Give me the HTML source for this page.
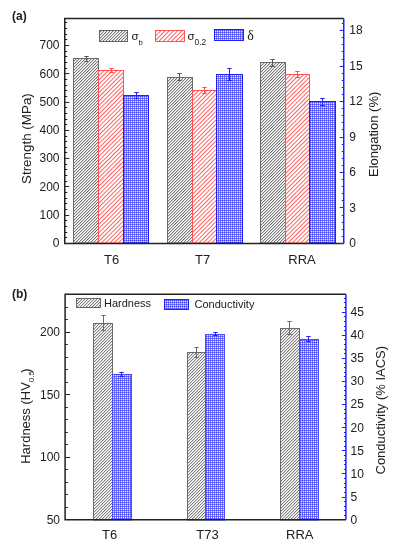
<!DOCTYPE html><html><head><meta charset="utf-8"><style>
html,body{margin:0;padding:0;background:#fff;}
svg{display:block;will-change:transform;}
text{font-family:"Liberation Sans",sans-serif;fill:#202020;}
</style></head><body>
<svg width="399" height="550" viewBox="0 0 399 550">
<defs>
<pattern id="pg" width="3" height="3" patternUnits="userSpaceOnUse"><rect width="3" height="3" fill="#fff"/><rect x="0" y="2" width="1" height="1" fill="#787878"/><rect x="1" y="1" width="1" height="1" fill="#787878"/><rect x="2" y="0" width="1" height="1" fill="#787878"/><rect x="1" y="2" width="1" height="1" fill="#d4d4d4"/><rect x="2" y="1" width="1" height="1" fill="#d4d4d4"/><rect x="0" y="0" width="1" height="1" fill="#d4d4d4"/></pattern>
<pattern id="pr" width="3" height="3" patternUnits="userSpaceOnUse" patternTransform="rotate(45)"><rect width="3" height="3" fill="#fff"/><rect x="0" y="0" width="0.95" height="3" fill="#ff5a5a"/></pattern>
<pattern id="pb" width="2" height="2" patternUnits="userSpaceOnUse"><rect width="2" height="2" fill="#4444ff"/><rect x="1" y="0" width="1" height="1" fill="#8484ff"/><rect x="0" y="1" width="1" height="1" fill="#8484ff"/><rect x="1" y="1" width="1" height="1" fill="#ececff"/></pattern>
<pattern id="pb2" width="2" height="2" patternUnits="userSpaceOnUse"><rect width="2" height="2" fill="#4a4aff"/><rect x="1" y="0" width="1" height="1" fill="#8080ff"/><rect x="0" y="1" width="1" height="1" fill="#8080ff"/><rect x="1" y="1" width="1" height="1" fill="#e0e0ff"/></pattern>
<pattern id="pg2" width="3" height="3" patternUnits="userSpaceOnUse"><rect width="3" height="3" fill="#fff"/><rect x="0" y="2" width="1" height="1" fill="#808080"/><rect x="1" y="1" width="1" height="1" fill="#808080"/><rect x="2" y="0" width="1" height="1" fill="#808080"/><rect x="1" y="2" width="1" height="1" fill="#d8d8d8"/><rect x="2" y="1" width="1" height="1" fill="#d8d8d8"/><rect x="0" y="0" width="1" height="1" fill="#d8d8d8"/></pattern>
<filter id="soft" x="0" y="0" width="399" height="550" filterUnits="userSpaceOnUse" color-interpolation-filters="sRGB"><feConvolveMatrix order="3" kernelMatrix="1 4 1 4 16 4 1 4 1" divisor="36" edgeMode="duplicate"/></filter>
</defs>
<g>
<rect width="399" height="550" fill="#fff"/>

<rect x="73.50" y="58.50" width="25.00" height="184.50" fill="url(#pg)" stroke="#6a6a6a" stroke-width="1"/>
<path d="M84.30 56.50H88.70M86.50 56.50V61.50M84.30 61.50H88.70" stroke="#555" stroke-width="1" fill="none"/>
<rect x="98.50" y="70.50" width="25.00" height="172.50" fill="url(#pr)" stroke="#ff5252" stroke-width="1"/>
<path d="M109.30 68.50H113.70M111.50 68.50V72.50M109.30 72.50H113.70" stroke="#ff4848" stroke-width="1" fill="none"/>
<rect x="123.50" y="95.50" width="25.00" height="147.50" fill="url(#pb2)" stroke="#2020ff" stroke-width="1"/>
<path d="M134.30 92.50H138.70M136.50 92.50V98.50M134.30 98.50H138.70" stroke="#2020ff" stroke-width="1" fill="none"/>
<rect x="167.50" y="77.50" width="25.00" height="165.50" fill="url(#pg)" stroke="#6a6a6a" stroke-width="1"/>
<path d="M177.30 73.50H181.70M179.50 73.50V80.50M177.30 80.50H181.70" stroke="#555" stroke-width="1" fill="none"/>
<rect x="192.50" y="90.50" width="24.00" height="152.50" fill="url(#pr)" stroke="#ff5252" stroke-width="1"/>
<path d="M202.30 87.50H206.70M204.50 87.50V93.50M202.30 93.50H206.70" stroke="#ff4848" stroke-width="1" fill="none"/>
<rect x="216.50" y="74.50" width="26.00" height="168.50" fill="url(#pb2)" stroke="#2020ff" stroke-width="1"/>
<path d="M227.30 68.50H231.70M229.50 68.50V80.50M227.30 80.50H231.70" stroke="#2020ff" stroke-width="1" fill="none"/>
<rect x="260.50" y="62.50" width="25.00" height="180.50" fill="url(#pg)" stroke="#6a6a6a" stroke-width="1"/>
<path d="M270.30 59.50H274.70M272.50 59.50V66.50M270.30 66.50H274.70" stroke="#555" stroke-width="1" fill="none"/>
<rect x="285.50" y="74.50" width="24.00" height="168.50" fill="url(#pr)" stroke="#ff5252" stroke-width="1"/>
<path d="M295.30 71.50H299.70M297.50 71.50V77.50M295.30 77.50H299.70" stroke="#ff4848" stroke-width="1" fill="none"/>
<rect x="309.50" y="101.50" width="26.00" height="141.50" fill="url(#pb2)" stroke="#2020ff" stroke-width="1"/>
<path d="M320.30 98.50H324.70M322.50 98.50V105.50M320.30 105.50H324.70" stroke="#2020ff" stroke-width="1" fill="none"/>
<path d="M343.75 18.40H64.75V243.40H343.75" stroke="#222" stroke-width="1.5" fill="none"/>
<path d="M343.75 18.40V243.40" stroke="#2020ff" stroke-width="1.5" fill="none"/>
<path d="M64.75 243.50H69.25M64.75 237.50H67.25M64.75 232.50H67.25M64.75 226.50H67.25M64.75 220.50H67.25M64.75 215.50H69.25M64.75 209.50H67.25M64.75 203.50H67.25M64.75 198.50H67.25M64.75 192.50H67.25M64.75 186.50H69.25M64.75 181.50H67.25M64.75 175.50H67.25M64.75 169.50H67.25M64.75 164.50H67.25M64.75 158.50H69.25M64.75 152.50H67.25M64.75 147.50H67.25M64.75 141.50H67.25M64.75 136.50H67.25M64.75 130.50H69.25M64.75 124.50H67.25M64.75 119.50H67.25M64.75 113.50H67.25M64.75 107.50H67.25M64.75 102.50H69.25M64.75 96.50H67.25M64.75 90.50H67.25M64.75 85.50H67.25M64.75 79.50H67.25M64.75 73.50H69.25M64.75 68.50H67.25M64.75 62.50H67.25M64.75 56.50H67.25M64.75 51.50H67.25M64.75 45.50H69.25M64.75 39.50H67.25M64.75 34.50H67.25M64.75 28.50H67.25M64.75 22.50H67.25" stroke="#222" stroke-width="1.1" fill="none"/>
<text x="59.5" y="247.20" font-size="12" text-anchor="end">0</text>
<text x="59.5" y="218.94" font-size="12" text-anchor="end">100</text>
<text x="59.5" y="190.68" font-size="12" text-anchor="end">200</text>
<text x="59.5" y="162.42" font-size="12" text-anchor="end">300</text>
<text x="59.5" y="134.16" font-size="12" text-anchor="end">400</text>
<text x="59.5" y="105.90" font-size="12" text-anchor="end">500</text>
<text x="59.5" y="77.64" font-size="12" text-anchor="end">600</text>
<text x="59.5" y="49.38" font-size="12" text-anchor="end">700</text>
<path d="M343.75 243.50H339.75M343.75 236.50H341.75M343.75 229.50H341.75M343.75 222.50H341.75M343.75 215.50H341.75M343.75 207.50H339.75M343.75 200.50H341.75M343.75 193.50H341.75M343.75 186.50H341.75M343.75 179.50H341.75M343.75 172.50H339.75M343.75 165.50H341.75M343.75 158.50H341.75M343.75 151.50H341.75M343.75 144.50H341.75M343.75 137.50H339.75M343.75 129.50H341.75M343.75 122.50H341.75M343.75 115.50H341.75M343.75 108.50H341.75M343.75 101.50H339.75M343.75 94.50H341.75M343.75 87.50H341.75M343.75 80.50H341.75M343.75 73.50H341.75M343.75 66.50H339.75M343.75 59.50H341.75M343.75 51.50H341.75M343.75 44.50H341.75M343.75 37.50H341.75M343.75 30.50H339.75M343.75 23.50H341.75" stroke="#2020ff" stroke-width="1.1" fill="none"/>
<text x="349.3" y="247.20" font-size="12">0</text>
<text x="349.3" y="211.74" font-size="12">3</text>
<text x="349.3" y="176.28" font-size="12">6</text>
<text x="349.3" y="140.82" font-size="12">9</text>
<text x="349.3" y="105.36" font-size="12">12</text>
<text x="349.3" y="69.90" font-size="12">15</text>
<text x="349.3" y="34.44" font-size="12">18</text>
<text x="111.65" y="263.8" font-size="13" text-anchor="middle">T6</text>
<text x="202.60" y="263.8" font-size="13" text-anchor="middle">T7</text>
<text x="302.00" y="263.8" font-size="13" text-anchor="middle">RRA</text>
<text transform="translate(30.8,184.0) rotate(-90)" font-size="13.4">Strength (MPa)</text>
<text transform="translate(378.3,177.0) rotate(-90)" font-size="13">Elongation (%)</text>
<text x="12" y="20.3" font-size="12" font-weight="bold">(a)</text>
<rect x="99.5" y="30.5" width="28" height="11" fill="url(#pg)" stroke="#666" stroke-width="1"/>
<text x="131.5" y="40.2" font-size="11.5">σ</text><text x="138.6" y="44.6" font-size="7.6">b</text>
<rect x="155.5" y="30.5" width="29" height="11" fill="url(#pr)" stroke="#ff5252" stroke-width="1"/>
<text x="187.6" y="40.3" font-size="11.5">σ</text><text x="194.6" y="44.8" font-size="8.3">0.2</text>
<rect x="214.5" y="29.5" width="29" height="11" fill="url(#pb2)" stroke="#2020ff" stroke-width="1"/>
<text x="247.2" y="40.2" font-size="14" style="font-family:'Liberation Serif',serif">δ</text>
<rect x="93.50" y="323.50" width="19.00" height="196.50" fill="url(#pg2)" stroke="#6a6a6a" stroke-width="1"/>
<path d="M101.30 315.50H105.70M103.50 315.50V330.50M101.30 330.50H105.70" stroke="#6a6a6a" stroke-width="1" fill="none"/>
<rect x="112.50" y="374.50" width="19.00" height="145.50" fill="url(#pb2)" stroke="#4a4aff" stroke-width="1"/>
<path d="M119.30 372.50H123.70M121.50 372.50V376.50M119.30 376.50H123.70" stroke="#2020ff" stroke-width="1" fill="none"/>
<rect x="187.50" y="352.50" width="18.00" height="167.50" fill="url(#pg2)" stroke="#6a6a6a" stroke-width="1"/>
<path d="M194.30 347.50H198.70M196.50 347.50V357.50M194.30 357.50H198.70" stroke="#6a6a6a" stroke-width="1" fill="none"/>
<rect x="205.50" y="334.50" width="19.00" height="185.50" fill="url(#pb2)" stroke="#4a4aff" stroke-width="1"/>
<path d="M213.30 332.50H217.70M215.50 332.50V335.50M213.30 335.50H217.70" stroke="#2020ff" stroke-width="1" fill="none"/>
<rect x="280.50" y="328.50" width="19.00" height="191.50" fill="url(#pg2)" stroke="#6a6a6a" stroke-width="1"/>
<path d="M287.30 321.50H291.70M289.50 321.50V334.50M287.30 334.50H291.70" stroke="#6a6a6a" stroke-width="1" fill="none"/>
<rect x="299.50" y="339.50" width="19.00" height="180.50" fill="url(#pb2)" stroke="#4a4aff" stroke-width="1"/>
<path d="M306.30 336.50H310.70M308.50 336.50V341.50M306.30 341.50H310.70" stroke="#2020ff" stroke-width="1" fill="none"/>
<path d="M345.90 294.20H65.10V519.70H345.90" stroke="#222" stroke-width="1.5" fill="none"/>
<path d="M345.90 294.20V519.70" stroke="#2020ff" stroke-width="1.5" fill="none"/>
<path d="M65.10 519.50H70.10M65.10 507.50H67.80M65.10 494.50H67.80M65.10 482.50H67.80M65.10 469.50H67.80M65.10 457.50H70.10M65.10 444.50H67.80M65.10 432.50H67.80M65.10 419.50H67.80M65.10 407.50H67.80M65.10 394.50H70.10M65.10 382.50H67.80M65.10 369.50H67.80M65.10 357.50H67.80M65.10 344.50H67.80M65.10 332.50H70.10M65.10 319.50H67.80M65.10 307.50H67.80" stroke="#222" stroke-width="1.1" fill="none"/>
<text x="60" y="523.50" font-size="12" text-anchor="end">50</text>
<text x="60" y="461.00" font-size="12" text-anchor="end">100</text>
<text x="60" y="398.50" font-size="12" text-anchor="end">150</text>
<text x="60" y="336.00" font-size="12" text-anchor="end">200</text>
<path d="M345.90 515.50H343.90M345.90 510.50H343.90M345.90 506.50H343.90M345.90 501.50H343.90M345.90 497.50H341.90M345.90 492.50H343.90M345.90 487.50H343.90M345.90 483.50H343.90M345.90 478.50H343.90M345.90 473.50H341.90M345.90 469.50H343.90M345.90 464.50H343.90M345.90 460.50H343.90M345.90 455.50H343.90M345.90 450.50H341.90M345.90 446.50H343.90M345.90 441.50H343.90M345.90 436.50H343.90M345.90 432.50H343.90M345.90 427.50H341.90M345.90 423.50H343.90M345.90 418.50H343.90M345.90 413.50H343.90M345.90 409.50H343.90M345.90 404.50H341.90M345.90 399.50H343.90M345.90 395.50H343.90M345.90 390.50H343.90M345.90 386.50H343.90M345.90 381.50H341.90M345.90 376.50H343.90M345.90 372.50H343.90M345.90 367.50H343.90M345.90 363.50H343.90M345.90 358.50H341.90M345.90 353.50H343.90M345.90 349.50H343.90M345.90 344.50H343.90M345.90 339.50H343.90M345.90 335.50H341.90M345.90 330.50H343.90M345.90 326.50H343.90M345.90 321.50H343.90M345.90 316.50H343.90M345.90 312.50H341.90M345.90 307.50H343.90M345.90 302.50H343.90M345.90 298.50H343.90" stroke="#2020ff" stroke-width="1.1" fill="none"/>
<text x="350.6" y="523.90" font-size="12">0</text>
<text x="350.6" y="500.80" font-size="12">5</text>
<text x="350.6" y="477.70" font-size="12">10</text>
<text x="350.6" y="454.60" font-size="12">15</text>
<text x="350.6" y="431.50" font-size="12">20</text>
<text x="350.6" y="408.40" font-size="12">25</text>
<text x="350.6" y="385.30" font-size="12">30</text>
<text x="350.6" y="362.20" font-size="12">35</text>
<text x="350.6" y="339.10" font-size="12">40</text>
<text x="350.6" y="316.00" font-size="12">45</text>
<text x="109.60" y="538.6" font-size="13" text-anchor="middle">T6</text>
<text x="207.50" y="538.6" font-size="13" text-anchor="middle">T73</text>
<text x="299.75" y="538.6" font-size="13" text-anchor="middle">RRA</text>
<text transform="translate(29.7,463.8) rotate(-90)" font-size="13">Hardness (HV<tspan font-size="8" dy="4.2">0.5</tspan><tspan dy="-4.2" dx="-1.8">)</tspan></text>
<text transform="translate(385.3,474.5) rotate(-90)" font-size="13">Conductivity (% IACS)</text>
<text x="12" y="297.6" font-size="12" font-weight="bold">(b)</text>
<rect x="76.5" y="298.5" width="24" height="9" fill="url(#pg2)" stroke="#666" stroke-width="1"/>
<text x="104" y="306.7" font-size="11">Hardness</text>
<rect x="164.5" y="299.5" width="24" height="10" fill="url(#pb2)" stroke="#2020ff" stroke-width="1"/>
<text x="194.5" y="307.9" font-size="11">Conductivity</text>
</g></svg></body></html>
